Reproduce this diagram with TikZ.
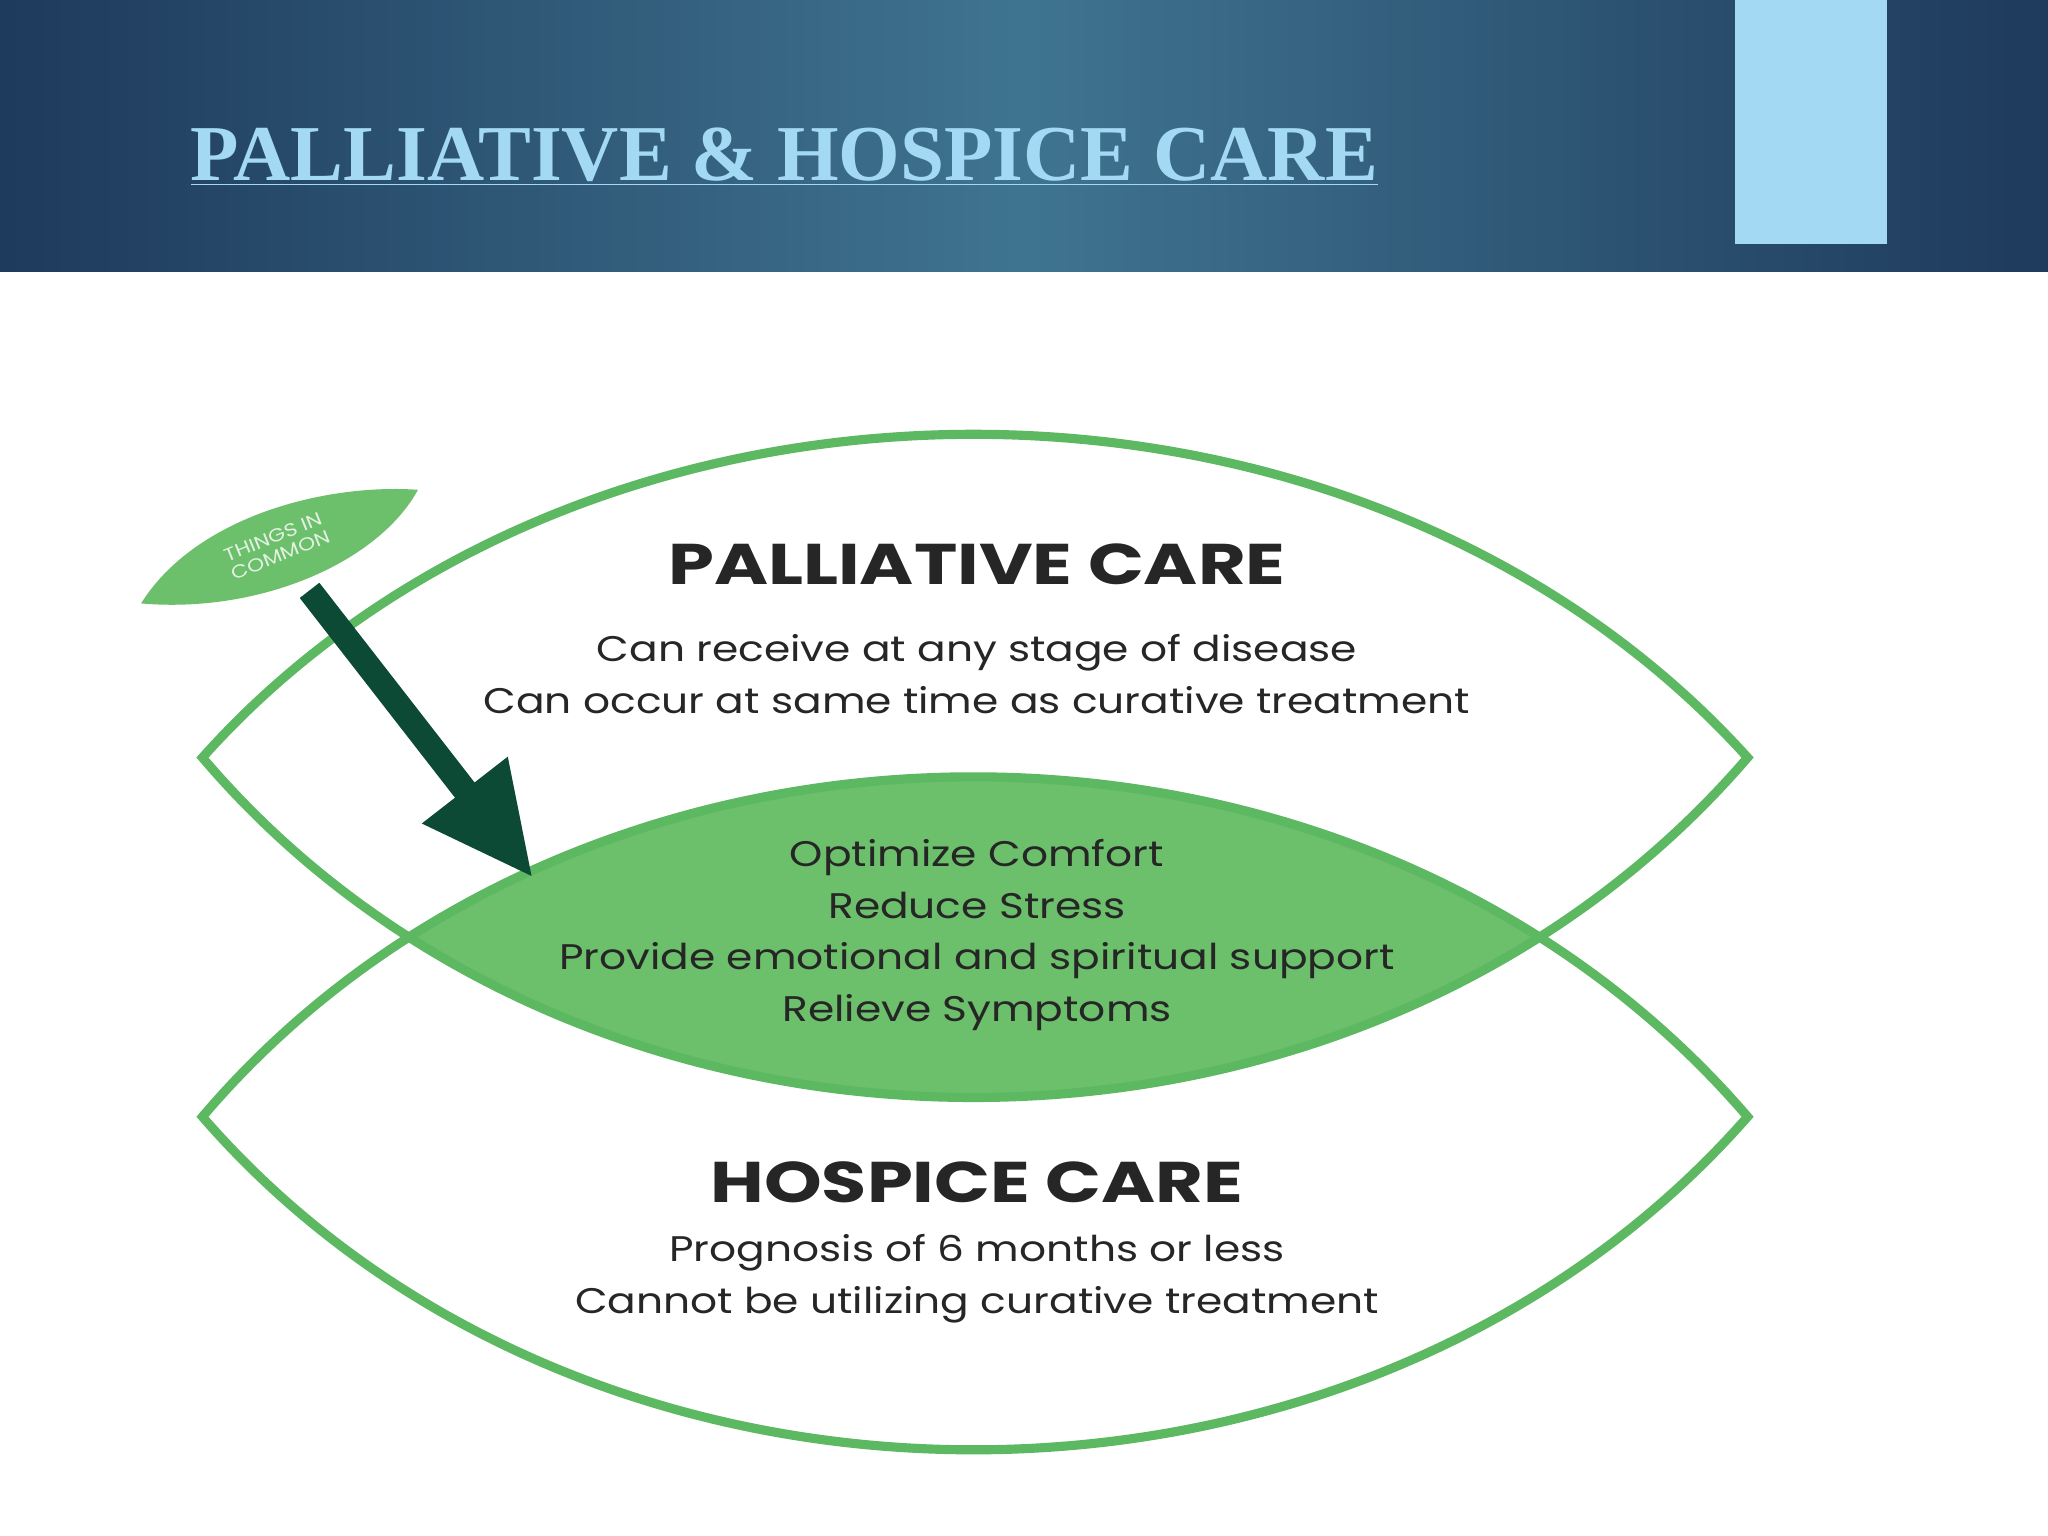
\documentclass[tikz,border=0pt]{standalone}
\usepackage{fontspec}
\setmainfont{Liberation Serif}
\newfontfamily\gsans[FakeStretch=1.19]{Poppins}
\newfontfamily\hsans[FakeStretch=1.28]{Poppins}
\usetikzlibrary{arrows.meta}
\definecolor{lgreen}{HTML}{5DB862}
\definecolor{fgreen}{HTML}{6CBF6B}
\definecolor{dgreen}{HTML}{0D4A36}
\definecolor{hblue}{HTML}{A3D9F3}
\definecolor{hdark}{HTML}{1E3A5C}
\definecolor{hmid}{HTML}{3F7490}
\tikzset{
 lens/.style={draw=lgreen,line width=0.14cm},
 body/.style={font=\gsans\fontsize{15.5}{23}\selectfont,text=black!85,align=center},
 head/.style={font=\hsans\bfseries\fontsize{25}{28}\selectfont,text=black!85}
}
\begin{document}
\begin{tikzpicture}[x=0.02cm,y=-0.02cm]
\useasboundingbox (0,0) rectangle (1568,1176);
\fill[white] (0,0) rectangle (1568,1176);
\shade[left color=hdark,right color=hdark,middle color=hmid] (0,0) rectangle (1568,208);
\fill[hblue] (1328,0) rectangle (1445,187);
\node[font=\bfseries\fontsize{34.5}{40}\selectfont,text=hblue,anchor=west] (title) at (140,120) {\underline{PALLIATIVE \& HOSPICE CARE}};
% middle fill
\begin{scope}
\clip (155,580) .. controls (450,250) and (1040,250) .. (1338,580) .. controls (1040,927) and (450,927) .. cycle;
\fill[fgreen] (155,855) .. controls (450,508) and (1040,508) .. (1338,855) .. controls (1040,1195) and (450,1195) .. cycle;
\end{scope}
\draw[lens] (155,580) .. controls (450,250) and (1040,250) .. (1338,580) .. controls (1040,927) and (450,927) .. cycle;
\draw[lens] (155,855) .. controls (450,508) and (1040,508) .. (1338,855) .. controls (1040,1195) and (450,1195) .. cycle;
\node[head] (pc) at (748,432) {PALLIATIVE CARE};
\node[body] (pct) at (748,516) {Can receive at any stage of disease\\Can occur at same time as curative treatment};
\node[body,font=\gsans\fontsize{15.5}{22.5}\selectfont] (mid) at (748,716) {Optimize Comfort\\Reduce Stress\\Provide emotional and spiritual support\\Relieve Symptoms};
\node[head] (hc) at (748,905) {HOSPICE CARE};
\node[body] (hct) at (748,979) {Prognosis of 6 months or less\\Cannot be utilizing curative treatment};
% leaf
\fill[fgreen] (108,462) .. controls (150,395) and (250,370) .. (320,375) .. controls (290,430) and (200,470) .. cycle;
\node[rotate=22,text=white!80!fgreen,font=\gsans\fontsize{8}{8.5}\selectfont,align=center] (leaf) at (212,418) {THINGS IN\\COMMON};
\coordinate (ae) at (408,672);
\draw[dgreen,line width=0.38cm,-{Triangle[length=1.7cm,width=1.55cm]}] (237,452) -- (ae);
\end{tikzpicture}
\end{document}
